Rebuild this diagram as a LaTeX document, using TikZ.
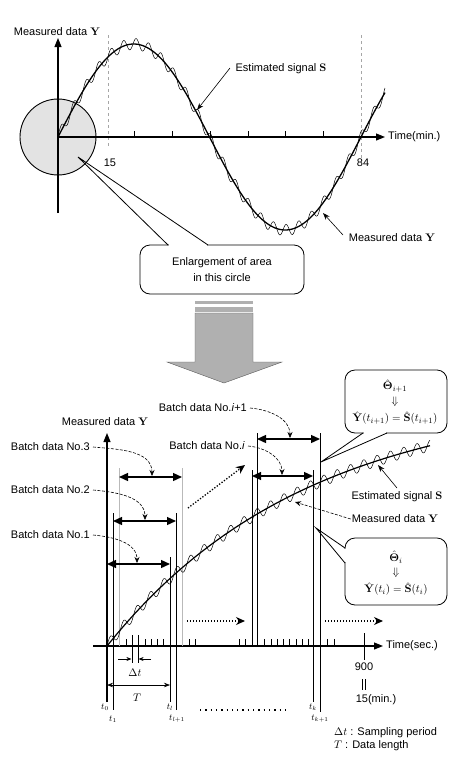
\documentclass[tikz,border=0pt]{standalone}
\usepackage[no-math]{fontspec}
\setmainfont{Liberation Sans}
\usetikzlibrary{arrows.meta}
\begin{document}
\begin{tikzpicture}[x=1pt,y=-1pt,
  lbl/.style={font=\fontsize{11}{13}\selectfont, inner sep=0pt},
  sm/.style={font=\fontsize{9}{10}\selectfont, inner sep=0pt},
  mth/.style={font=\fontsize{11}{13}\selectfont, inner sep=0pt},
  ax/.style={line width=1.1pt, -{Triangle[length=9pt,width=7pt]}},
  dbl/.style={line width=1.3pt, {Triangle[length=9pt,width=8pt]}-{Triangle[length=9pt,width=8pt]}},
  vline/.style={line width=0.8pt},
  gline/.style={line width=0.8pt, gray!55},
  dashcurve/.style={dash pattern=on 3pt off 1.5pt, line width=0.6pt, -{Stealth[length=6pt,width=5pt]}},
  pointer/.style={line width=0.6pt, -{Stealth[length=7pt,width=5pt]}},
  dotarrow/.style={line width=1.3pt, dash pattern=on 1.3pt off 1.7pt, -{Stealth[length=9pt,width=8pt]}},
  callbox/.style={line width=0.8pt, fill=white, rounded corners=10pt},
  tick/.style={line width=0.6pt},
  ]
\useasboundingbox (0,0) rectangle (474,769);

% ---------------- top graph ----------------
\node[circle, draw, fill=gray!22, line width=0.9pt, minimum size=76pt, inner sep=0pt] (zoomc) at (58,137) {};
\coordinate (o1) at (58,137);
\coordinate (ytop1) at (58,38);
\coordinate (ybot1) at (58,213);
\coordinate (xend1) at (385,137);
\draw[dashed, gray!70, line width=0.5pt] (108,35) -- (108,148);
\draw[dashed, gray!70, line width=0.5pt] (361,35) -- (361,160);
\draw[ax] (ybot1) -- (ytop1);
\draw[ax] (o1) -- (xend1);
\foreach \xx in {134,172,210,248,285,323} \draw[tick] (\xx,137) -- (\xx,131);
\node[lbl, anchor=west] (tmin) at (388,137) {Time(min.)};
\node[lbl] (ylab1) at (57,32) {Measured data $\mathbf{Y}$};
\node[lbl] (l15) at (110,163) {15};
\node[lbl] (l84) at (363,163) {84};
\draw[line width=1.3pt] plot[domain=58:385,samples=200] (\x,{137-93*sin(1.18812*(\x-58))});
\draw[line width=0.5pt] plot[domain=58:385,samples=900] (\x,{137-93*sin(1.18812*(\x-58))-5.5*sin(28.8*(\x-58))});
\node[lbl] (es1) at (281,69) {Estimated signal $\mathbf{S}$};
\coordinate (es1a) at (230,68);
\coordinate (es1b) at (197,110);
\draw[pointer] (es1a) -- (es1b);
\node[lbl] (md1) at (392,238) {Measured data $\mathbf{Y}$};
\coordinate (md1a) at (343,235);
\coordinate (md1b) at (323,213);
\draw[pointer] (md1a) -- (md1b);

% ---------------- callout ----------------
\coordinate (ctip) at (78,157);
\coordinate (cb1) at (168,245);
\coordinate (cb2) at (208,245);
\draw[callbox] (140,245) rectangle (304,294);
\fill[white] (169,243.5) rectangle (207,246.5);
\draw[line width=0.8pt] (cb1) -- (ctip) -- (cb2);
\node[lbl, align=center] (enl) at (222,270) {Enlargement of area\\[3pt]in this circle};

% ---------------- big arrow ----------------
\fill[gray!62] (195,301) rectangle (253,304);
\fill[gray!62] (195,307) rectangle (253,312);
\filldraw[fill=gray!62, draw=gray!70!black, line width=0.4pt] (195,313) -- (253,313) -- (253,362) -- (282,362) -- (224,383) -- (167,362) -- (195,362) -- cycle;

% ---------------- bottom graph ----------------
\coordinate (o2) at (107,646);
\coordinate (ytop2) at (107,433);
\coordinate (ybot2) at (107,702);
\coordinate (xs2) at (93,646);
\coordinate (xend2) at (383,646);
\foreach \k in {2,...,14,21,22,25,26,...,32,35,36} \draw[tick] ({107+6.3*\k},646) -- ({107+6.3*\k},639);
\draw[ax] (ybot2) -- (ytop2);
\draw[ax] (xs2) -- (xend2);
\node[lbl, anchor=west] (tsec) at (386,646) {Time(sec.)};
\node[lbl] (ylab2) at (105,422) {Measured data $\mathbf{Y}$};

% vertical boundary lines
\draw[vline] (113,513) -- (113,710);
\draw[gline] (119,468) -- (119,646);
\draw[vline] (170,557) -- (170,702);
\draw[vline] (176,513) -- (176,710);
\draw[gline] (182,468) -- (182,646);
\draw[vline] (252,470) -- (252,646);
\draw[vline] (257,433) -- (257,646);
\draw[vline] (313,470) -- (313,702);
\draw[vline] (320,433) -- (320,712);

% batch double arrows
\coordinate (b1l) at (107,564); \coordinate (b1r) at (170,564);
\coordinate (b2l) at (113,521); \coordinate (b2r) at (176,521);
\coordinate (b3l) at (119,477); \coordinate (b3r) at (182,477);
\coordinate (bil) at (252,476); \coordinate (bir) at (313,476);
\coordinate (bjl) at (257,439); \coordinate (bjr) at (320,439);
\draw[dbl] (b1l) -- (b1r);
\draw[dbl] (b2l) -- (b2r);
\draw[dbl] (b3l) -- (b3r);
\draw[dbl] (bil) -- (bir);
\draw[dbl] (bjl) -- (bjr);

% batch labels
\node[lbl, anchor=east] (bl3) at (90,447) {Batch data No.3};
\node[lbl, anchor=east] (bl2) at (90,490) {Batch data No.2};
\node[lbl, anchor=east] (bl1) at (90,535) {Batch data No.1};
\node[lbl, anchor=east] (blj) at (247,408) {Batch data No.\textit{i}+1};
\node[lbl, anchor=east] (bli) at (245,446) {Batch data No.\textit{i}};
\coordinate (a3) at (152,476);
\coordinate (a2) at (145,520);
\coordinate (a1) at (137,563);
\coordinate (aj) at (290,438);
\coordinate (ai) at (282,475);
\draw[dashcurve] ([xshift=3pt]bl3.east) to[out=-5,in=90] (a3);
\draw[dashcurve] ([xshift=3pt]bl2.east) to[out=-5,in=90] (a2);
\draw[dashcurve] ([xshift=3pt]bl1.east) to[out=-5,in=90] (a1);
\draw[dashcurve] ([xshift=3pt]blj.east) to[out=-5,in=90] (aj);
\draw[dashcurve] ([xshift=3pt]bli.east) to[out=-5,in=90] (ai);

% curves
\draw[line width=1.2pt] plot[domain=107:430,samples=150] (\x,{646-250*(1-exp(-(\x-107)/200))});
\draw[line width=0.5pt] plot[domain=107:430,samples=900] (\x,{646-250*(1-exp(-(\x-107)/200))-5.5*sin(27*(\x-107))});

% dotted arrows
\coordinate (d1a) at (188,508); \coordinate (d1b) at (245,465);
\coordinate (d2a) at (187,621); \coordinate (d2b) at (245,621);
\coordinate (d3a) at (325,621); \coordinate (d3b) at (383,621);
\coordinate (d4a) at (200,710); \coordinate (d4b) at (290,710);
\draw[dotarrow] (d1a) -- (d1b);
\draw[dotarrow] (d2a) -- (d2b);
\draw[dotarrow] (d3a) -- (d3b);
\draw[line width=1.3pt, dash pattern=on 1.3pt off 4pt] (d4a) -- (d4b);

% signal labels bottom
\node[lbl] (es2) at (397,497) {Estimated signal $\mathbf{S}$};
\coordinate (es2a) at (397,488);
\coordinate (es2b) at (378,465);
\draw[pointer] (es2a) -- (es2b);
\node[lbl] (md2) at (395,519) {Measured data $\mathbf{Y}$};
\coordinate (md2b) at (295,502);
\draw[dashcurve, line width=0.6pt] ([xshift=-1pt]md2.west) -- (md2b);

% callout boxes right
\coordinate (tip1) at (321,462);
\coordinate (p1a) at (363,433); \coordinate (p1b) at (387,433);
\draw[callbox] (345,370) rectangle (447,433);
\fill[white] (364,431.5) rectangle (386,434.5);
\draw[line width=0.8pt] (p1a) -- (tip1) -- (p1b);
\node[mth] (th1) at (395,386) {$\hat{\mathbf{\Theta}}_{i+1}$};
\node[mth] (dn1) at (395,402) {$\Downarrow$};
\node[mth] (eq1) at (395,418) {$\hat{\mathbf{Y}}(t_{i+1})=\hat{\mathbf{S}}(t_{i+1})$};

\coordinate (tip2) at (316,528);
\coordinate (p2a) at (345,548); \coordinate (p2b) at (345,563);
\draw[callbox] (345,538) rectangle (447,605);
\fill[white] (343.5,549) rectangle (346.5,562);
\draw[line width=0.8pt] (p2a) -- (tip2) -- (p2b);
\node[mth] (th2) at (396,557) {$\hat{\mathbf{\Theta}}_{i}$};
\node[mth] (dn2) at (396,573) {$\Downarrow$};
\node[mth] (eq2) at (396,589) {$\hat{\mathbf{Y}}(t_{i})=\hat{\mathbf{S}}(t_{i})$};

% sampling marks
\draw[tick] (132,635) -- (132,663);
\draw[tick] (138,635) -- (138,663);
\coordinate (dta) at (118,659); \coordinate (dtb) at (131.4,659);
\coordinate (dtc) at (151,659); \coordinate (dtd) at (138.6,659);
\draw[line width=0.6pt, -{Stealth[length=5pt,width=4pt]}] (dta) -- (dtb);
\draw[line width=0.6pt, -{Stealth[length=5pt,width=4pt]}] (dtc) -- (dtd);
\node[mth] (dtl) at (135,673) {$\Delta t$};
\coordinate (Ta) at (107,685); \coordinate (Tb) at (170,685);
\draw[line width=0.6pt, {Stealth[length=6pt,width=4.5pt]}-{Stealth[length=6pt,width=4.5pt]}] (Ta) -- (Tb);
\node[mth] (Tl) at (137,698) {$T$};

\node[sm] (t0) at (105,707) {$t_0$};
\node[sm] (t1) at (113,719) {$t_1$};
\node[sm] (tl) at (170,707) {$t_l$};
\node[sm] (tl1) at (177,719) {$t_{l+1}$};
\node[sm] (tk) at (313,707) {$t_k$};
\node[sm] (tk1) at (320,719) {$t_{k+1}$};

% 900 / 15 min
\coordinate (n9a) at (364,633); \coordinate (n9b) at (364,660);
\draw[line width=0.6pt] (n9a) -- (n9b);
\node[lbl] (n900) at (364,667) {900};
\draw[line width=0.8pt] (362.5,679) -- (362.5,690);
\draw[line width=0.8pt] (365.5,679) -- (365.5,690);
\node[lbl] (m15) at (376,700) {15(min.)};

% legend
\node[lbl, anchor=west] (leg1) at (334,733) {$\Delta t$ : Sampling period};
\node[lbl, anchor=west] (leg2) at (334,746) {$T$ : Data length};
\end{tikzpicture}
\end{document}
